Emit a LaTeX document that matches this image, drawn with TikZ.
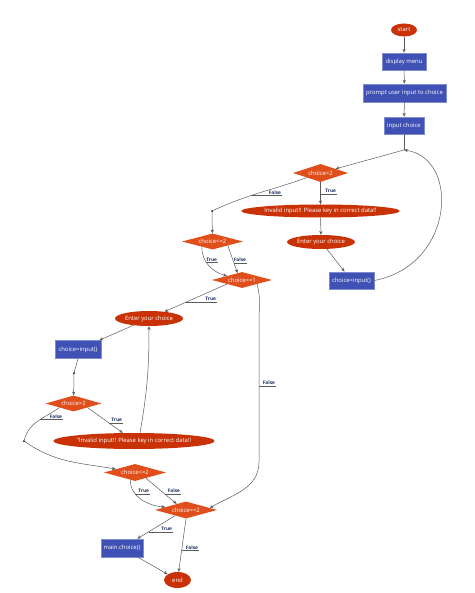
\documentclass[tikz,border=0pt]{standalone}
\usepackage{fontspec}
\setmainfont{Open Sans}
\usetikzlibrary{arrows.meta,shapes.geometric,calc}
\definecolor{fcred}{RGB}{200,50,6}
\definecolor{fcorange}{RGB}{224,78,28}
\definecolor{fcblue}{RGB}{63,81,181}
\definecolor{fcblueline}{RGB}{128,140,210}
\definecolor{fcnavy}{RGB}{28,48,98}
\definecolor{fcline}{RGB}{90,90,90}
\tikzset{
  term/.style={ellipse, fill=fcred, text=white, inner sep=0pt, font=\fontsize{5.9}{6.5}\selectfont},
  proc/.style={rectangle, fill=fcblue, draw=fcblueline, line width=0.7pt, text=white, inner sep=0pt, minimum height=17pt, font=\fontsize{5.9}{6.5}\selectfont},
  decision/.style={diamond, aspect=3.5, fill=fcorange, text=white, inner sep=0pt, minimum height=16pt, font=\fontsize{5.9}{6.5}\selectfont},
  dot/.style={circle, fill=black, inner sep=0pt, minimum size=2pt},
  arrow/.style={-{Stealth[length=3.8pt,width=3.2pt]}, draw=fcline, line width=0.5pt},
  line/.style={draw=fcline, line width=0.5pt},
  lbl/.style={anchor=south east, text=fcnavy, inner sep=0.8pt, font=\fontsize{4.8}{5}\selectfont\bfseries},
  uline/.style={draw=fcline, line width=0.45pt}
}
\begin{document}
\begin{tikzpicture}[x=1pt,y=1pt]
\useasboundingbox (0,0) rectangle (474,-593);
\node[term, minimum width=26pt, minimum height=13pt] (start) at (404,-30) {start};
\node[proc, minimum width=44pt] (menu) at (404,-61.5) {display menu};
\node[proc, minimum width=83pt, minimum height=18pt] (prompt) at (404.5,-93) {prompt user input to choice};
\node[proc, minimum width=40pt] (inchoice) at (404,-125.5) {input choice};
\coordinate (j1) at (404,-150);
\node[decision, minimum width=55pt, minimum height=18pt] (d1) at (320.5,-173) {choice>2};
\node[term, minimum width=151pt, minimum height=13pt] (inv1) at (320.5,-211) {Invalid input!! Please key in correct data!!};
\node[term, minimum width=59pt, minimum height=14pt] (enter1) at (321,-242) {Enter your choice};
\node[proc, minimum width=45pt] (ci1) at (351.5,-280.5) {choice=input()};
\node[dot] (j2) at (212,-211) {};
\node[decision, minimum width=61pt] (d2) at (212.5,-241.5) {choice<=2};
\node[decision, minimum width=60pt] (d3) at (242,-280) {choice==1};
\node[term, minimum width=68pt, minimum height=15pt] (enter2) at (149,-318.5) {Enter your choice};
\node[proc, minimum width=46pt, minimum height=18pt] (ci2) at (78,-349.5) {choice=input()};
\node[dot] (j3) at (74,-373) {};
\node[decision, minimum width=56pt] (d4) at (73.5,-403.5) {choice>2};
\node[dot] (j4) at (24,-441) {};
\node[term, minimum width=154pt, minimum height=16pt] (inv2) at (134,-441) {"Invalid input!! Please key in correct data!!};
\node[decision, minimum width=62pt, minimum height=17pt] (d5) at (135,-472.5) {choice<=2};
\node[decision, minimum width=62pt, minimum height=17pt] (d6) at (186,-510) {choice==2};
\node[proc, minimum width=42pt, minimum height=18pt] (mainc) at (122,-548) {main.choice()};
\node[term, minimum width=27pt, minimum height=16pt] (end) at (177.5,-580) {end};
\coordinate (fx1) at (259,-322);
\coordinate (fx2) at (259,-462);

\draw[arrow] (start)--(menu);\draw[arrow] (menu)--(prompt);\draw[arrow] (prompt)--(inchoice);
\draw[line] (inchoice)--(j1);\draw[arrow] (j1)--(d1);
\draw[arrow] (ci1.east) .. controls (455,-265) and (460,-158) .. (j1);
\draw[arrow] (d1)--(inv1) coordinate[pos=0.53] (c1);
\draw[line] (d1.south west) to[out=200,in=25] coordinate[pos=0.6] (c2) (j2);
\draw[arrow] (inv1)--(enter1);\draw[arrow] ([xshift=6pt]enter1.south)--(ci1);
\draw[arrow] (j2)--(d2);
\draw[arrow] ($(d2.south)!0.35!(d2.west)$) to[out=-90,in=165] coordinate[pos=0.4] (c3) (d3.north west);
\draw[arrow] (d2.south east)--($(d3.north)!0.15!(d3.west)$) coordinate[pos=0.63] (c4);
\draw[arrow] (d3.south west)--(enter2) coordinate[pos=0.65] (c5);
\draw[arrow] (d3.south east) to[out=-75,in=90] (fx1)--(fx2) coordinate[pos=0.457] (c6) to[out=-90,in=30] (d6.5);
\draw[arrow] (enter2)--(ci2);\draw[line] (ci2.south)--(j3);\draw[arrow] (j3)--(d4);
\draw[line] (d4.south west) to[out=215,in=75] coordinate[pos=0.45] (c7) (j4);
\draw[arrow] (d4.south east)--(inv2) coordinate[pos=0.6] (c8);
\draw[arrow] ([xshift=6pt]inv2.north) to[out=80,in=-90] (enter2.south);
\draw[arrow] (j4) to[out=-35,in=170] (d5.170);
\draw[arrow] ($(d5.south)!0.15!(d5.west)$) to[out=-90,in=175] coordinate[pos=0.32] (c9) (d6.172);
\draw[arrow] ($(d5.south)!0.35!(d5.east)$)--($(d6.north)!0.3!(d6.west)$) coordinate[pos=0.61] (c10);
\draw[arrow] ($(d6.south)!0.35!(d6.west)$)--(mainc) coordinate[pos=0.7] (c11);
\draw[arrow] (d6.south)--(end) coordinate[pos=0.59] (c12);
\draw[arrow] (mainc)--(end);

\foreach \c/\x/\t in {c1/337/True, c2/282/False, c3/218/True, c4/247/False, c5/217/True, c6/276/False,
  c7/63/False, c8/123/True, c9/150/True, c10/181/False, c11/173/True, c12/199/False}
  {\node[lbl] (l\c) at (\x,0 |- \c) {\t}; \draw[uline] (\c)--(l\c.south east);}
\end{tikzpicture}
\end{document}
